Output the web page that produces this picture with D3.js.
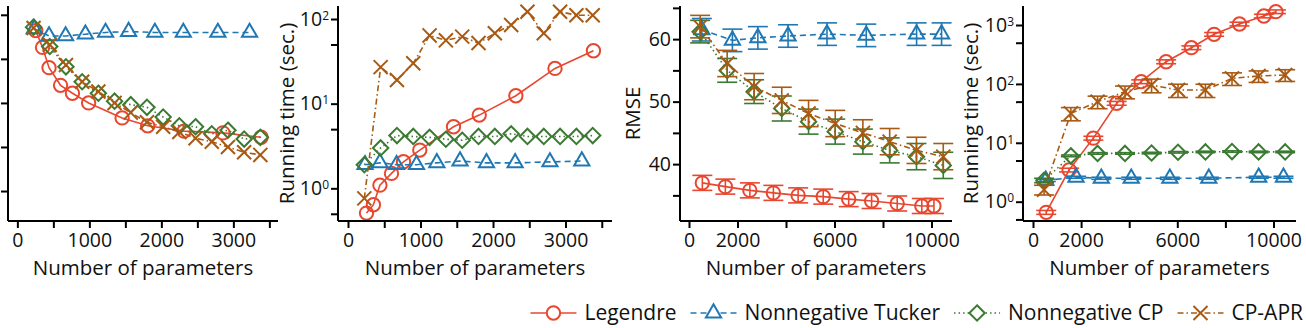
<!DOCTYPE html>
<html>
<head>
<meta charset="utf-8">
<script src="https://cdn.jsdelivr.net/npm/d3@7"></script>
<style>
  body { margin: 0; background: #fff; }
  svg { display: block; font-family: "Open Sans", sans-serif; }
</style>
</head>
<body>
<div id="chart"></div>
<script>
// Series names (legend order)
const seriesNames = ["Legendre", "Nonnegative Tucker", "Nonnegative CP", "CP-APR"];

// Panels 1-2: x values (number of parameters)
const xLegendreA = [255, 350, 440, 600, 765, 990, 1455, 1810, 2315, 2855, 3385];
const xTuckerA = [235, 440, 670, 945, 1225, 1545, 1910, 2305, 2785, 3225];
const xCPA = [225, 450, 675, 900, 1125, 1350, 1575, 1800, 2025, 2250, 2475, 2700, 2925, 3150, 3375];

// Panel 1 values (y tick labels are cut off in the source)
const p1Legendre = [2.82, 2.63, 2.40, 2.20, 2.11, 2.00, 1.83, 1.74, 1.68, 1.66, 1.61];
const p1Tucker = [2.84, 2.76, 2.76, 2.78, 2.80, 2.81, 2.80, 2.80, 2.80, 2.80];
const p1CP = [2.86, 2.64, 2.41, 2.24, 2.11, 2.02, 1.98, 1.95, 1.84, 1.74, 1.73, 1.65, 1.69, 1.59, 1.61];
const p1CPAPR = [2.85, 2.66, 2.43, 2.24, 2.13, 2.00, 1.89, 1.78, 1.73, 1.67, 1.60, 1.56, 1.50, 1.44, 1.41];

// Panel 2: running time (sec.)
const p2Legendre = [0.51, 0.64, 1.09, 1.50, 2.06, 2.83, 5.34, 7.33, 12.4, 26.1, 42.2];
const p2Tucker = [1.9, 2.0, 1.9, 1.9, 2.0, 2.1, 2.0, 2.0, 2.05, 2.1];
const p2CP = [1.9, 3.0, 4.2, 4.1, 4.0, 3.8, 3.7, 4.1, 4.1, 4.4, 4.1, 4.1, 4.1, 4.1, 4.2];
const p2CPAPR = [0.76, 27, 19, 30, 64, 56, 62, 52, 68, 85, 122, 68, 122, 111, 111];

// Panels 3-4: x values
const xLegendreB = [550, 1500, 2510, 3480, 4500, 5535, 6585, 7530, 8585, 9600, 10100];
const xTuckerB = [530, 1790, 2840, 4085, 5690, 7310, 9385, 10415];
const xCPB = [460, 1575, 2685, 3825, 4930, 6030, 7170, 8275, 9380, 10485];

// Panel 3: RMSE with error
const p3Legendre = [37.0, 36.4, 35.8, 35.4, 35.0, 34.8, 34.4, 34.1, 33.7, 33.3, 33.3];
const p3LegendreErr = [1.2, 1.2, 1.2, 1.2, 1.2, 1.2, 1.2, 1.2, 1.2, 1.2, 1.2];
const p3Tucker = [61.5, 59.8, 60.2, 60.5, 60.8, 60.6, 60.8, 60.8];
const p3TuckerErr = [1.8, 1.8, 1.8, 1.8, 1.8, 1.8, 1.8, 1.8];
const p3CP = [61.2, 55.0, 51.6, 48.9, 46.8, 45.2, 43.6, 42.2, 41.2, 39.8];
const p3CPErr = [1.8, 1.9, 1.9, 2.0, 2.0, 2.0, 2.0, 2.0, 2.1, 2.1];
const p3CPAPR = [62.0, 56.1, 52.4, 50.2, 48.1, 46.5, 45.0, 43.6, 42.2, 41.2];
const p3CPAPRErr = [1.8, 2.1, 2.1, 2.1, 2.1, 2.1, 2.1, 2.1, 2.1, 2.1];

// Panel 4: running time (sec.) with error
const p4Legendre = [0.66, 3.45, 12.0, 46.9, 109, 238, 412, 695, 1040, 1422, 1683];
const p4LegendreErr = [0.05, 0.25, 0.9, 3.5, 8, 18, 30, 50, 75, 100, 120];
const p4Tucker = [2.3, 2.6, 2.5, 2.5, 2.5, 2.5, 2.6, 2.6];
const p4TuckerErr = [0.1, 0.1, 0.1, 0.1, 0.1, 0.1, 0.1, 0.1];
const p4CP = [2.3, 6.0, 6.6, 6.6, 6.7, 6.9, 7.0, 7.1, 7.0, 7.0];
const p4CPErr = [0.2, 0.2, 0.2, 0.2, 0.2, 0.2, 0.2, 0.2, 0.2, 0.2];
const p4CPAPR = [1.6, 31.6, 49.9, 73.8, 95.6, 78.7, 78.7, 124, 136, 142];
const p4CPAPRErr = [0.3, 8, 12, 18, 25, 20, 20, 30, 30, 32];

// Tick values
const p1XTicks = [0, 500, 1000, 1500, 2000, 2500, 3000, 3500];
const p1XLabels = [0, 1000, 2000, 3000];
const p1YTicks = [1, 1.5, 2, 2.5, 3];
const logTicksP2 = [0.5, 1, 5, 10, 50, 100];
const p3XTicks = [0, 2000, 4000, 6000, 8000, 10000];
const p3XLabels = [0, 2000, 6000, 10000];
const p3YTicks = [35, 40, 45, 50, 55, 60, 65];
const p3YLabels = [40, 50, 60];
const logTicksP4 = [0.5, 1, 5, 10, 50, 100, 500, 1000];

// Styles
const style = {
  "Legendre": { color: "#e8472f", dash: null, symbol: d3.symbolCircle, size: 140 },
  "Nonnegative Tucker": { color: "#1f78b4", dash: "6,4", symbol: d3.symbolTriangle, size: 100 },
  "Nonnegative CP": { color: "#3b7a32", dash: "1.5,3", symbol: d3.symbolDiamond2, size: 150 },
  "CP-APR": { color: "#a85a13", dash: "6,3,1.5,3", symbol: d3.symbolTimes, size: 130 }
};

const width = 1306, height = 328;
const axisY = 221, axisTop = 6;
const tickFont = "19.5px", titleFont = "20.5px";

const svg = d3.select("#chart").append("svg")
  .attr("width", width)
  .attr("height", height);

const zip = (xs, ys, es) => xs.map((x, i) => ({ x: x, y: ys[i], e: es ? es[i] : null }));

const panels = [
  {
    xDomain: [-130, 3620], xRange: [8, 278], yDomain: [0.66, 3.10], log: false,
    xTicks: p1XTicks, xLabels: p1XLabels, yTicks: p1YTicks, yLabels: [],
    series: [
      { name: "Legendre", pts: zip(xLegendreA, p1Legendre) },
      { name: "Nonnegative Tucker", pts: zip(xTuckerA, p1Tucker) },
      { name: "Nonnegative CP", pts: zip(xCPA, p1CP) },
      { name: "CP-APR", pts: zip(xCPA, p1CPAPR) }
    ]
  },
  {
    xDomain: [-138, 3641], xRange: [338, 612], yDomain: [0.411, 142.5], log: true,
    xTicks: p1XTicks, xLabels: p1XLabels, yTicks: logTicksP2,
    yTitle: "Running time (sec.)", yTitleX: 293.5,
    series: [
      { name: "Legendre", pts: zip(xLegendreA, p2Legendre) },
      { name: "Nonnegative Tucker", pts: zip(xTuckerA, p2Tucker) },
      { name: "Nonnegative CP", pts: zip(xCPA, p2CP) },
      { name: "CP-APR", pts: zip(xCPA, p2CPAPR) }
    ]
  },
  {
    xDomain: [-371, 10845], xRange: [680, 952], yDomain: [30.9, 65.3], log: false,
    xTicks: p3XTicks, xLabels: p3XLabels, yTicks: p3YTicks, yLabels: p3YLabels,
    yTitle: "RMSE", yTitleX: 640,
    series: [
      { name: "Legendre", pts: zip(xLegendreB, p3Legendre, p3LegendreErr) },
      { name: "Nonnegative Tucker", pts: zip(xTuckerB, p3Tucker, p3TuckerErr) },
      { name: "Nonnegative CP", pts: zip(xCPB, p3CP, p3CPErr) },
      { name: "CP-APR", pts: zip(xCPB, p3CPAPR, p3CPAPRErr) }
    ]
  },
  {
    xDomain: [-416, 10936], xRange: [1023, 1296], yDomain: [0.47, 2102], log: true,
    xTicks: p3XTicks, xLabels: p3XLabels, yTicks: logTicksP4,
    yTitle: "Running time (sec.)", yTitleX: 977.5,
    series: [
      { name: "Legendre", pts: zip(xLegendreB, p4Legendre, p4LegendreErr) },
      { name: "Nonnegative Tucker", pts: zip(xTuckerB, p4Tucker, p4TuckerErr) },
      { name: "Nonnegative CP", pts: zip(xCPB, p4CP, p4CPErr) },
      { name: "CP-APR", pts: zip(xCPB, p4CPAPR, p4CPAPRErr) }
    ]
  }
];

function styleAxis(sel) {
  sel.select(".domain").attr("stroke", "#000").attr("stroke-width", 2);
  sel.selectAll(".tick line").attr("stroke", "#000").attr("stroke-width", 2);
  sel.selectAll(".tick text").attr("fill", "#111").style("font-size", tickFont)
    .style("font-family", "'Open Sans', sans-serif");
}

panels.forEach(p => {
  const g = svg.append("g");
  const x = d3.scaleLinear().domain(p.xDomain).range(p.xRange);
  const y = (p.log ? d3.scaleLog() : d3.scaleLinear()).domain(p.yDomain).range([axisY, axisTop]);

  // Lines, error bars and markers, per series
  p.series.forEach(s => {
    const st = style[s.name];
    const line = d3.line().x(d => x(d.x)).y(d => y(d.y));
    g.append("path")
      .datum(s.pts)
      .attr("d", line)
      .attr("fill", "none")
      .attr("stroke", st.color)
      .attr("stroke-width", 1.6)
      .attr("stroke-dasharray", st.dash);

    const withErr = s.pts.filter(d => d.e != null);
    const eb = g.append("g").attr("stroke", st.color).attr("stroke-width", 1.6);
    withErr.forEach(d => {
      const y0 = y(d.y - d.e), y1 = y(d.y + d.e), cx = x(d.x);
      eb.append("line").attr("x1", cx).attr("x2", cx).attr("y1", y0).attr("y2", y1);
      eb.append("line").attr("x1", cx - 10).attr("x2", cx + 10).attr("y1", y0).attr("y2", y0);
      eb.append("line").attr("x1", cx - 10).attr("x2", cx + 10).attr("y1", y1).attr("y2", y1);
    });

    g.append("g").selectAll("path")
      .data(s.pts)
      .enter().append("path")
      .attr("transform", d => `translate(${x(d.x)},${y(d.y)})`)
      .attr("d", d3.symbol().type(st.symbol).size(st.size))
      .attr("fill", "none")
      .attr("stroke", st.color)
      .attr("stroke-width", 2);
  });

  // X axis
  const xa = g.append("g")
    .attr("transform", `translate(0,${axisY})`)
    .call(d3.axisBottom(x).tickValues(p.xTicks)
      .tickFormat(d => p.xLabels.includes(d) ? d : "")
      .tickSize(7).tickSizeOuter(0).tickPadding(5));
  styleAxis(xa);
  xa.select(".domain").attr("d", `M${p.xRange[0]},0H${p.xRange[1]}`);

  // Y axis
  const ya = g.append("g")
    .attr("transform", `translate(${p.xRange[0]},0)`)
    .call(d3.axisLeft(y).tickValues(p.yTicks).tickSize(7).tickSizeOuter(0).tickPadding(2));
  styleAxis(ya);
  ya.select(".domain").attr("d", `M0,${axisTop}V${axisY}`);
  ya.selectAll(".tick text").each(function(d) {
    const t = d3.select(this);
    if (p.log) {
      const e = Math.log10(d);
      t.text("");
      if (Math.abs(e - Math.round(e)) < 1e-9) {
        t.append("tspan").text("10");
        t.append("tspan").attr("dy", "-0.5em").style("font-size", "12px").text(Math.round(e));
      }
    } else {
      t.text(p.yLabels.includes(d) ? d : "");
    }
  });

  // Axis titles
  g.append("text")
    .attr("x", (p.xRange[0] + p.xRange[1]) / 2)
    .attr("y", 275)
    .attr("text-anchor", "middle")
    .style("font-size", titleFont)
    .attr("fill", "#111")
    .text("Number of parameters");

  if (p.yTitle) {
    g.append("text")
      .attr("transform", `translate(${p.yTitleX},${(axisY + axisTop) / 2}) rotate(-90)`)
      .attr("text-anchor", "middle")
      .style("font-size", titleFont)
      .attr("fill", "#111")
      .text(p.yTitle);
  }
});

// Legend, right aligned at the bottom
const legend = svg.append("g").attr("class", "legend");
const lineLen = 46, textGap = 8, itemGap = 14, legendY = 313;
let cursor = 0;
seriesNames.forEach(name => {
  const st = style[name];
  const item = legend.append("g").attr("transform", `translate(${cursor},0)`);
  item.append("line")
    .attr("x1", 0).attr("x2", lineLen).attr("y1", legendY).attr("y2", legendY)
    .attr("stroke", st.color).attr("stroke-width", 1.6)
    .attr("stroke-dasharray", st.dash);
  item.append("path")
    .attr("transform", `translate(${lineLen / 2},${legendY})`)
    .attr("d", d3.symbol().type(st.symbol).size(st.size))
    .attr("fill", "#fff").attr("stroke", st.color).attr("stroke-width", 2);
  const t = item.append("text")
    .attr("x", lineLen + textGap).attr("y", 320)
    .style("font-size", "21px").attr("fill", "#111")
    .text(name);
  cursor += lineLen + textGap + t.node().getComputedTextLength() + itemGap;
});
legend.attr("transform", `translate(${1303 - (cursor - itemGap)},0)`);
</script>
</body>
</html>
